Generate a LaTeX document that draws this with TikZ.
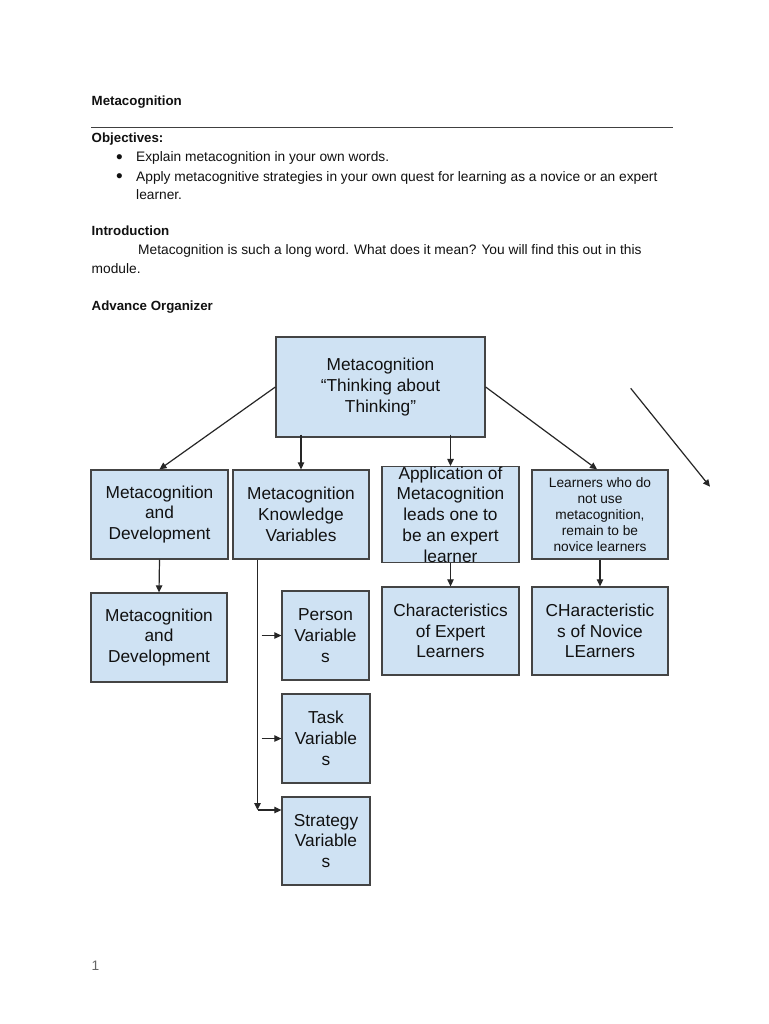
\documentclass[tikz,border=0pt]{standalone}
\usepackage{fontspec}
\setmainfont{Liberation Sans}
\usepackage{xcolor}
\usetikzlibrary{arrows.meta, positioning, calc}
\definecolor{boxblue}{HTML}{CFE2F3}
\definecolor{boxline}{HTML}{444444}
\definecolor{ink}{HTML}{111111}
\tikzset{
    box/.style ={rectangle, draw=boxline, fill=boxblue, line width=1.3pt, inner sep=0pt, align=center, text=ink, font=\fontsize{17.3}{20.8}\selectfont}, % the big boxes of the organizer
    smallbox/.style ={box, font=\fontsize{13.7}{16}\selectfont},
    txt/.style = {anchor=base west, inner sep=0pt, text=ink, font=\fontsize{13.75}{18.6}\selectfont},
    head/.style = {txt, font=\fontsize{13.3}{18.6}\selectfont\bfseries},
    dot/.style = {txt, anchor=base, font=\fontsize{19}{18.6}\selectfont},
    arr/.style = {-{Triangle[length=7pt,width=6.5pt]}, line width=1.2pt, draw=black!85}
}

\begin{document}
\begin{tikzpicture}[x=1pt, y=-1pt]
    \useasboundingbox[fill=white] (0,0) rectangle (768,1024);
    % page text
    \node[head] (title) at (91.5,105.3) {Metacognition};
    \draw[line width=0.9pt, draw=black!75] (91,127.3) -- (673,127.3);
    \node[head] (obj) at (91.5,143) {Objectives:};
    \node[dot] (b1) at (119.5,163.5) {•};
    \node[dot] (b2) at (119.5,182.8) {•};
    \node[txt] (o1) at (136,162) {Explain metacognition in your own words.};
    \node[txt] (o2) at (136,181.3) {Apply metacognitive strategies in your own quest for learning as a novice or an expert};
    \node[txt] (o3) at (136,199.6) {learner.};
    \node[head] (intro) at (91.5,235.3) {Introduction};
    \node[txt] (i1) at (138,254) {Metacognition is such a long word. What does it mean? You will find this out in this};
    \node[txt] (i2) at (91.5,273) {module.};
    \node[head] (adv) at (91.5,310.7) {Advance Organizer};
    \node[txt, text=black!60] (pg) at (91.5,970.7) {1};

    % boxes
    \node[box, minimum width=209pt, minimum height=100pt] (mc) at (380.5,387) {Metacognition\\“Thinking about\\Thinking”};
    \node[box, minimum width=137pt, minimum height=89pt] (dev) at (159.5,514.5) {Metacognition\\and\\Development};
    \node[box, minimum width=136pt, minimum height=89pt] (know) at (301,514.5) {Metacognition\\Knowledge\\Variables};
    \node[box, minimum width=137pt, minimum height=89pt] (app) at (450.5,514.5) {Application of\\Metacognition\\leads one to\\be an expert\\learner};
    \node[smallbox, minimum width=136pt, minimum height=89pt] (nov) at (600,514.5) {Learners who do\\not use\\metacognition,\\remain to be\\novice learners};
    \node[box, minimum width=136pt, minimum height=89pt] (dev2) at (159,637.5) {Metacognition\\and\\Development};
    \node[box, minimum width=87pt, minimum height=89pt] (pers) at (325.5,635.5) {Person\\Variable\\s};
    \node[box, minimum width=88pt, minimum height=89pt] (task) at (326,738.5) {Task\\Variable\\s};
    \node[box, minimum width=88pt, minimum height=88pt] (strat) at (326,841) {Strategy\\Variable\\s};
    \node[box, minimum width=137pt, minimum height=88pt] (expc) at (450.5,631) {Characteristics\\of Expert\\Learners};
    \node[box, minimum width=136pt, minimum height=88pt] (novc) at (600,631) {CHaracteristic\\s of Novice\\LEarners};

    % connectors
    \draw[arr] (mc.west) -- (dev.north);
    \draw[arr] ([yshift=3pt]know.north |- mc.south) -- (know.north);
    \draw[arr] ([yshift=3pt]app.north |- mc.south) -- (app.north);
    \draw[arr] (mc.east) -- ([xshift=-3pt]nov.north);
    \draw[arr] (dev.south) -- (dev2.north);
    \draw[arr] (app.south) -- (expc.north);
    \draw[arr] (nov.south) -- (novc.north);
    \coordinate (bus) at (257.5,810);
    \draw[arr] (know.south -| bus) -- (bus);
    \draw[arr] ([xshift=4pt]bus |- pers.west) -- (pers.west);
    \draw[arr] ([xshift=4pt]bus |- task.west) -- (task.west);
    \draw[arr] (bus) -- (bus -| strat.west);
    \coordinate (s1) at (630.7,388.3);
    \coordinate (s2) at (710,486.7);
    \draw[arr] (s1) -- (s2);
\end{tikzpicture}
\end{document}
